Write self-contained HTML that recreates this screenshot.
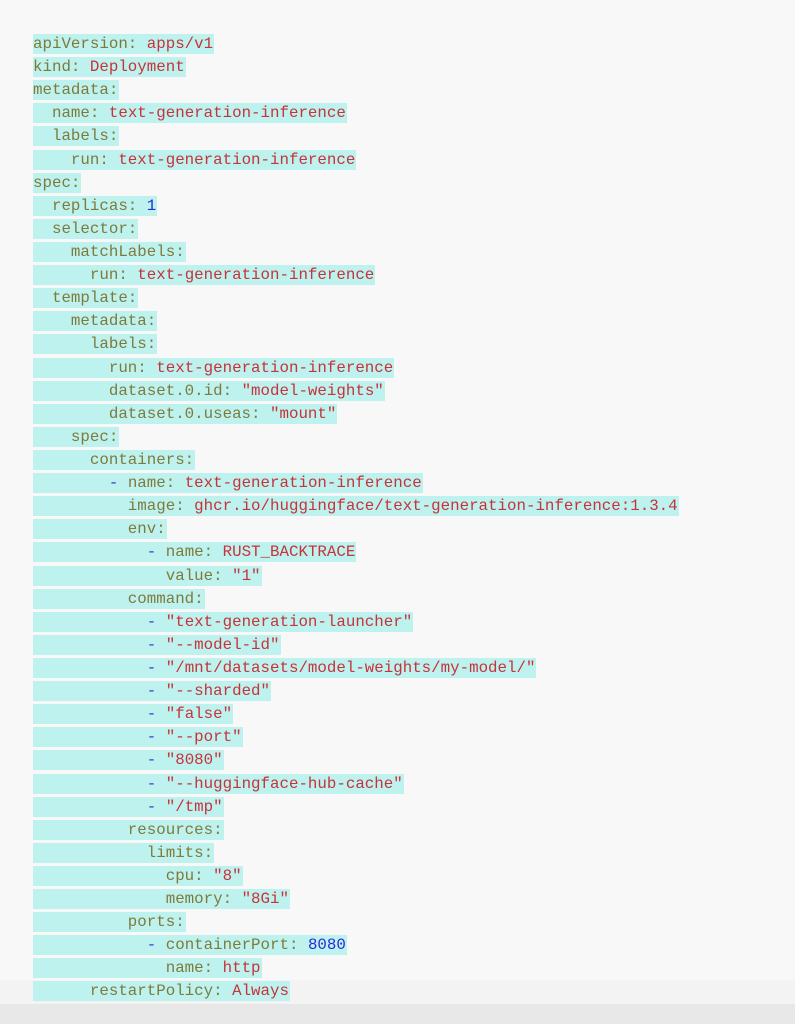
<!DOCTYPE html>
<html><head><meta charset="utf-8"><style>
html,body{margin:0;padding:0;width:795px;height:1024px;overflow:hidden;background:#f8f8f8;}
.b1{position:absolute;left:0;top:980px;width:795px;height:24px;background:#f3f3f3;}
.b2{position:absolute;left:0;top:1004px;width:795px;height:20px;background:#e8e8e8;}
.code{position:absolute;left:33px;top:34px;font-family:"Liberation Mono",monospace;font-size:15.8px;}
.l{height:23.12px;white-space:pre;}
.l>span.h{display:inline-block;height:20px;line-height:20px;background:#bdf2ee;padding-right:1px;}
.k{color:#7f7a3c}.s{color:#c8323a}.n{color:#2a2ad6}.d{color:#3b3bd0}
</style></head><body>
<div class="b1"></div><div class="b2"></div>
<div class="code">
<div class="l"><span class="h"><span class="k">apiVersion:</span> <span class="s">apps/v1</span></span></div>
<div class="l"><span class="h"><span class="k">kind:</span> <span class="s">Deployment</span></span></div>
<div class="l"><span class="h"><span class="k">metadata:</span></span></div>
<div class="l"><span class="h">  <span class="k">name:</span> <span class="s">text-generation-inference</span></span></div>
<div class="l"><span class="h">  <span class="k">labels:</span></span></div>
<div class="l"><span class="h">    <span class="k">run:</span> <span class="s">text-generation-inference</span></span></div>
<div class="l"><span class="h"><span class="k">spec:</span></span></div>
<div class="l"><span class="h">  <span class="k">replicas:</span> <span class="n">1</span></span></div>
<div class="l"><span class="h">  <span class="k">selector:</span></span></div>
<div class="l"><span class="h">    <span class="k">matchLabels:</span></span></div>
<div class="l"><span class="h">      <span class="k">run:</span> <span class="s">text-generation-inference</span></span></div>
<div class="l"><span class="h">  <span class="k">template:</span></span></div>
<div class="l"><span class="h">    <span class="k">metadata:</span></span></div>
<div class="l"><span class="h">      <span class="k">labels:</span></span></div>
<div class="l"><span class="h">        <span class="k">run:</span> <span class="s">text-generation-inference</span></span></div>
<div class="l"><span class="h">        <span class="k">dataset.0.id:</span> <span class="s">"model-weights"</span></span></div>
<div class="l"><span class="h">        <span class="k">dataset.0.useas:</span> <span class="s">"mount"</span></span></div>
<div class="l"><span class="h">    <span class="k">spec:</span></span></div>
<div class="l"><span class="h">      <span class="k">containers:</span></span></div>
<div class="l"><span class="h">        <span class="d">-</span> <span class="k">name:</span> <span class="s">text-generation-inference</span></span></div>
<div class="l"><span class="h">          <span class="k">image:</span> <span class="s">ghcr.io/huggingface/text-generation-inference:1.3.4</span></span></div>
<div class="l"><span class="h">          <span class="k">env:</span></span></div>
<div class="l"><span class="h">            <span class="d">-</span> <span class="k">name:</span> <span class="s">RUST_BACKTRACE</span></span></div>
<div class="l"><span class="h">              <span class="k">value:</span> <span class="s">"1"</span></span></div>
<div class="l"><span class="h">          <span class="k">command:</span></span></div>
<div class="l"><span class="h">            <span class="d">-</span> <span class="s">"text-generation-launcher"</span></span></div>
<div class="l"><span class="h">            <span class="d">-</span> <span class="s">"--model-id"</span></span></div>
<div class="l"><span class="h">            <span class="d">-</span> <span class="s">"/mnt/datasets/model-weights/my-model/"</span></span></div>
<div class="l"><span class="h">            <span class="d">-</span> <span class="s">"--sharded"</span></span></div>
<div class="l"><span class="h">            <span class="d">-</span> <span class="s">"false"</span></span></div>
<div class="l"><span class="h">            <span class="d">-</span> <span class="s">"--port"</span></span></div>
<div class="l"><span class="h">            <span class="d">-</span> <span class="s">"8080"</span></span></div>
<div class="l"><span class="h">            <span class="d">-</span> <span class="s">"--huggingface-hub-cache"</span></span></div>
<div class="l"><span class="h">            <span class="d">-</span> <span class="s">"/tmp"</span></span></div>
<div class="l"><span class="h">          <span class="k">resources:</span></span></div>
<div class="l"><span class="h">            <span class="k">limits:</span></span></div>
<div class="l"><span class="h">              <span class="k">cpu:</span> <span class="s">"8"</span></span></div>
<div class="l"><span class="h">              <span class="k">memory:</span> <span class="s">"8Gi"</span></span></div>
<div class="l"><span class="h">          <span class="k">ports:</span></span></div>
<div class="l"><span class="h">            <span class="d">-</span> <span class="k">containerPort:</span> <span class="n">8080</span></span></div>
<div class="l"><span class="h">              <span class="k">name:</span> <span class="s">http</span></span></div>
<div class="l"><span class="h">      <span class="k">restartPolicy:</span> <span class="s">Always</span></span></div>
</div>
</body></html>
